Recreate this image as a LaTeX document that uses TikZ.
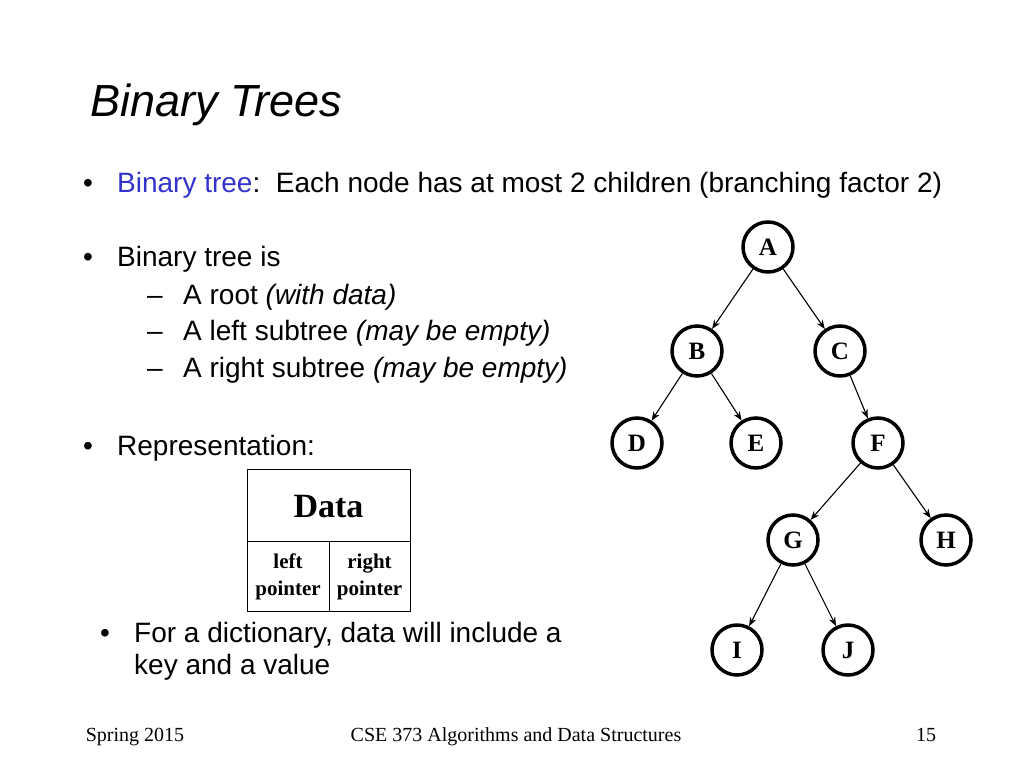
\documentclass[tikz,border=0pt]{standalone}
\usepackage{fontspec}
\setmainfont{Liberation Sans}
\newfontfamily\serifb{Liberation Serif}
\usetikzlibrary{arrows.meta}
\begin{document}
\begin{tikzpicture}[x=1pt,y=-1pt,
 tn/.style={circle,draw,line width=3.5pt,minimum size=50pt,inner sep=0pt,font=\serifb\bfseries\fontsize{25}{25}\selectfont},
 ed/.style={-{Stealth[length=9pt,width=7pt]},line width=1.1pt},
 txt/.style={anchor=base west,font=\fontsize{28}{32}\selectfont,inner sep=0pt},
 ft/.style={anchor=base,font=\serifb\fontsize{20}{22}\selectfont,inner sep=0pt}]
\useasboundingbox (0,0) rectangle (1024,768);
\node[anchor=base west,inner sep=0pt,font=\itshape\fontsize{45}{50}\selectfont] (title) at (90,116) {Binary Trees};
\node[txt] (b1) at (83,192) {•};
\node[txt] (t1) at (117,192) {\textcolor[RGB]{51,51,204}{Binary tree}:\ \ Each node has at most 2 children (branching factor 2)};
\node[txt] (b2) at (83,266) {•};
\node[txt] (t2) at (117,266) {Binary tree is};
\node[txt] (d1) at (147,304) {–};
\node[txt] (t3) at (183,304) {A root \textit{(with data)}};
\node[txt] (d2) at (147,340) {–};
\node[txt] (t4) at (183,340) {A left subtree \textit{(may be empty)}};
\node[txt] (d3) at (147,377) {–};
\node[txt] (t5) at (183,377) {A right subtree \textit{(may be empty)}};
\node[txt] (b3) at (83,455) {•};
\node[txt] (t6) at (117,455) {Representation:};
\node[txt] (b4) at (100,642) {•};
\node[txt] (t7) at (134,642) {For a dictionary, data will include a};
\node[txt] (t8) at (134,674) {key and a value};
% data box
\draw[line width=1pt] (247,469) rectangle (410,611);
\draw[line width=1pt] (247,541) -- (410,541);
\draw[line width=1pt] (329,541) -- (329,611);
\node[font=\serifb\bfseries\fontsize{34}{34}\selectfont] (data) at (328.5,507) {Data};
\node[font=\serifb\bfseries\fontsize{21}{27}\selectfont,align=center] (lp) at (288,577) {left\\pointer};
\node[font=\serifb\bfseries\fontsize{21}{27}\selectfont,align=center] (rp) at (369.5,577) {right\\pointer};
% tree
\node[tn] (A) at (768,247) {A};
\node[tn] (B) at (697,351) {B};
\node[tn] (C) at (840,351) {C};
\node[tn] (D) at (637,443) {D};
\node[tn] (E) at (756,443) {E};
\node[tn] (F) at (878,443) {F};
\node[tn] (G) at (793,540) {G};
\node[tn] (H) at (946,540) {H};
\node[tn] (I) at (737,650) {I};
\node[tn] (J) at (848,650) {J};
\foreach \a/\b in {A/B,A/C,B/D,B/E,C/F,F/G,F/H,G/I,G/J}
  \draw[ed] (\a) -- (\b);
% footer
\node[ft] (f1) at (135,741) {Spring 2015};
\node[ft] (f2) at (516,741) {CSE 373 Algorithms and Data Structures};
\node[ft] (f3) at (926,741) {15};
\end{tikzpicture}
\end{document}
